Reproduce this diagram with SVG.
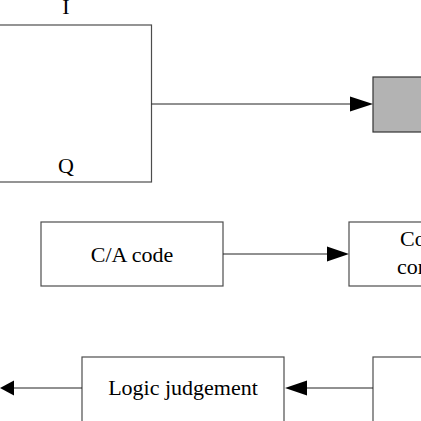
<svg xmlns="http://www.w3.org/2000/svg" width="421" height="421" viewBox="0 0 421 421">
<style>
.box{fill:#fff;stroke:#4d4d4d;stroke-width:1.2}
.gray{fill:#b3b3b3;stroke:#333;stroke-width:1.2}
.ln{stroke:#222;stroke-width:1;fill:none}
.ah{fill:#000}
text{font-family:"Liberation Serif","Times New Roman",serif;font-size:22px;fill:#000}
</style>
<rect width="421" height="421" fill="#fff"/>
<g id="iq-block">
<rect class="box" x="-10" y="25" width="161.5" height="157"/>
<text x="66" y="14" text-anchor="middle">I</text>
<text x="66" y="173" text-anchor="middle">Q</text>
</g>
<g id="gray-block">
<rect class="gray" x="373" y="77" width="60" height="55"/>
</g>
<g id="ca-code">
<rect class="box" x="41" y="222" width="182" height="64"/>
<text x="132" y="262" text-anchor="middle">C/A code</text>
</g>
<g id="code-correlation">
<rect class="box" x="349" y="222" width="90" height="64"/>
<text x="400" y="246">Code</text>
<text x="397" y="274">correlation</text>
</g>
<g id="logic-judgement">
<rect class="box" x="82" y="357" width="202" height="80"/>
<text x="183" y="395" text-anchor="middle">Logic judgement</text>
</g>
<g id="bottom-right-block">
<rect class="box" x="373" y="357" width="60" height="80"/>
</g>
<g id="connectors">
<line class="ln" x1="151.5" y1="104" x2="352" y2="104"/>
<polygon class="ah" points="373,104 350,96.5 350,111.5"/>
<line class="ln" x1="223" y1="254" x2="329" y2="254"/>
<polygon class="ah" points="349,254 327,246.5 327,261.5"/>
<line class="ln" x1="373" y1="388" x2="305" y2="388"/>
<polygon class="ah" points="285,388 307,380.5 307,395.5"/>
<line class="ln" x1="82" y1="388" x2="12" y2="388"/>
<polygon class="ah" points="0,388 14,380.5 14,395.5"/>
</g>
</svg>
